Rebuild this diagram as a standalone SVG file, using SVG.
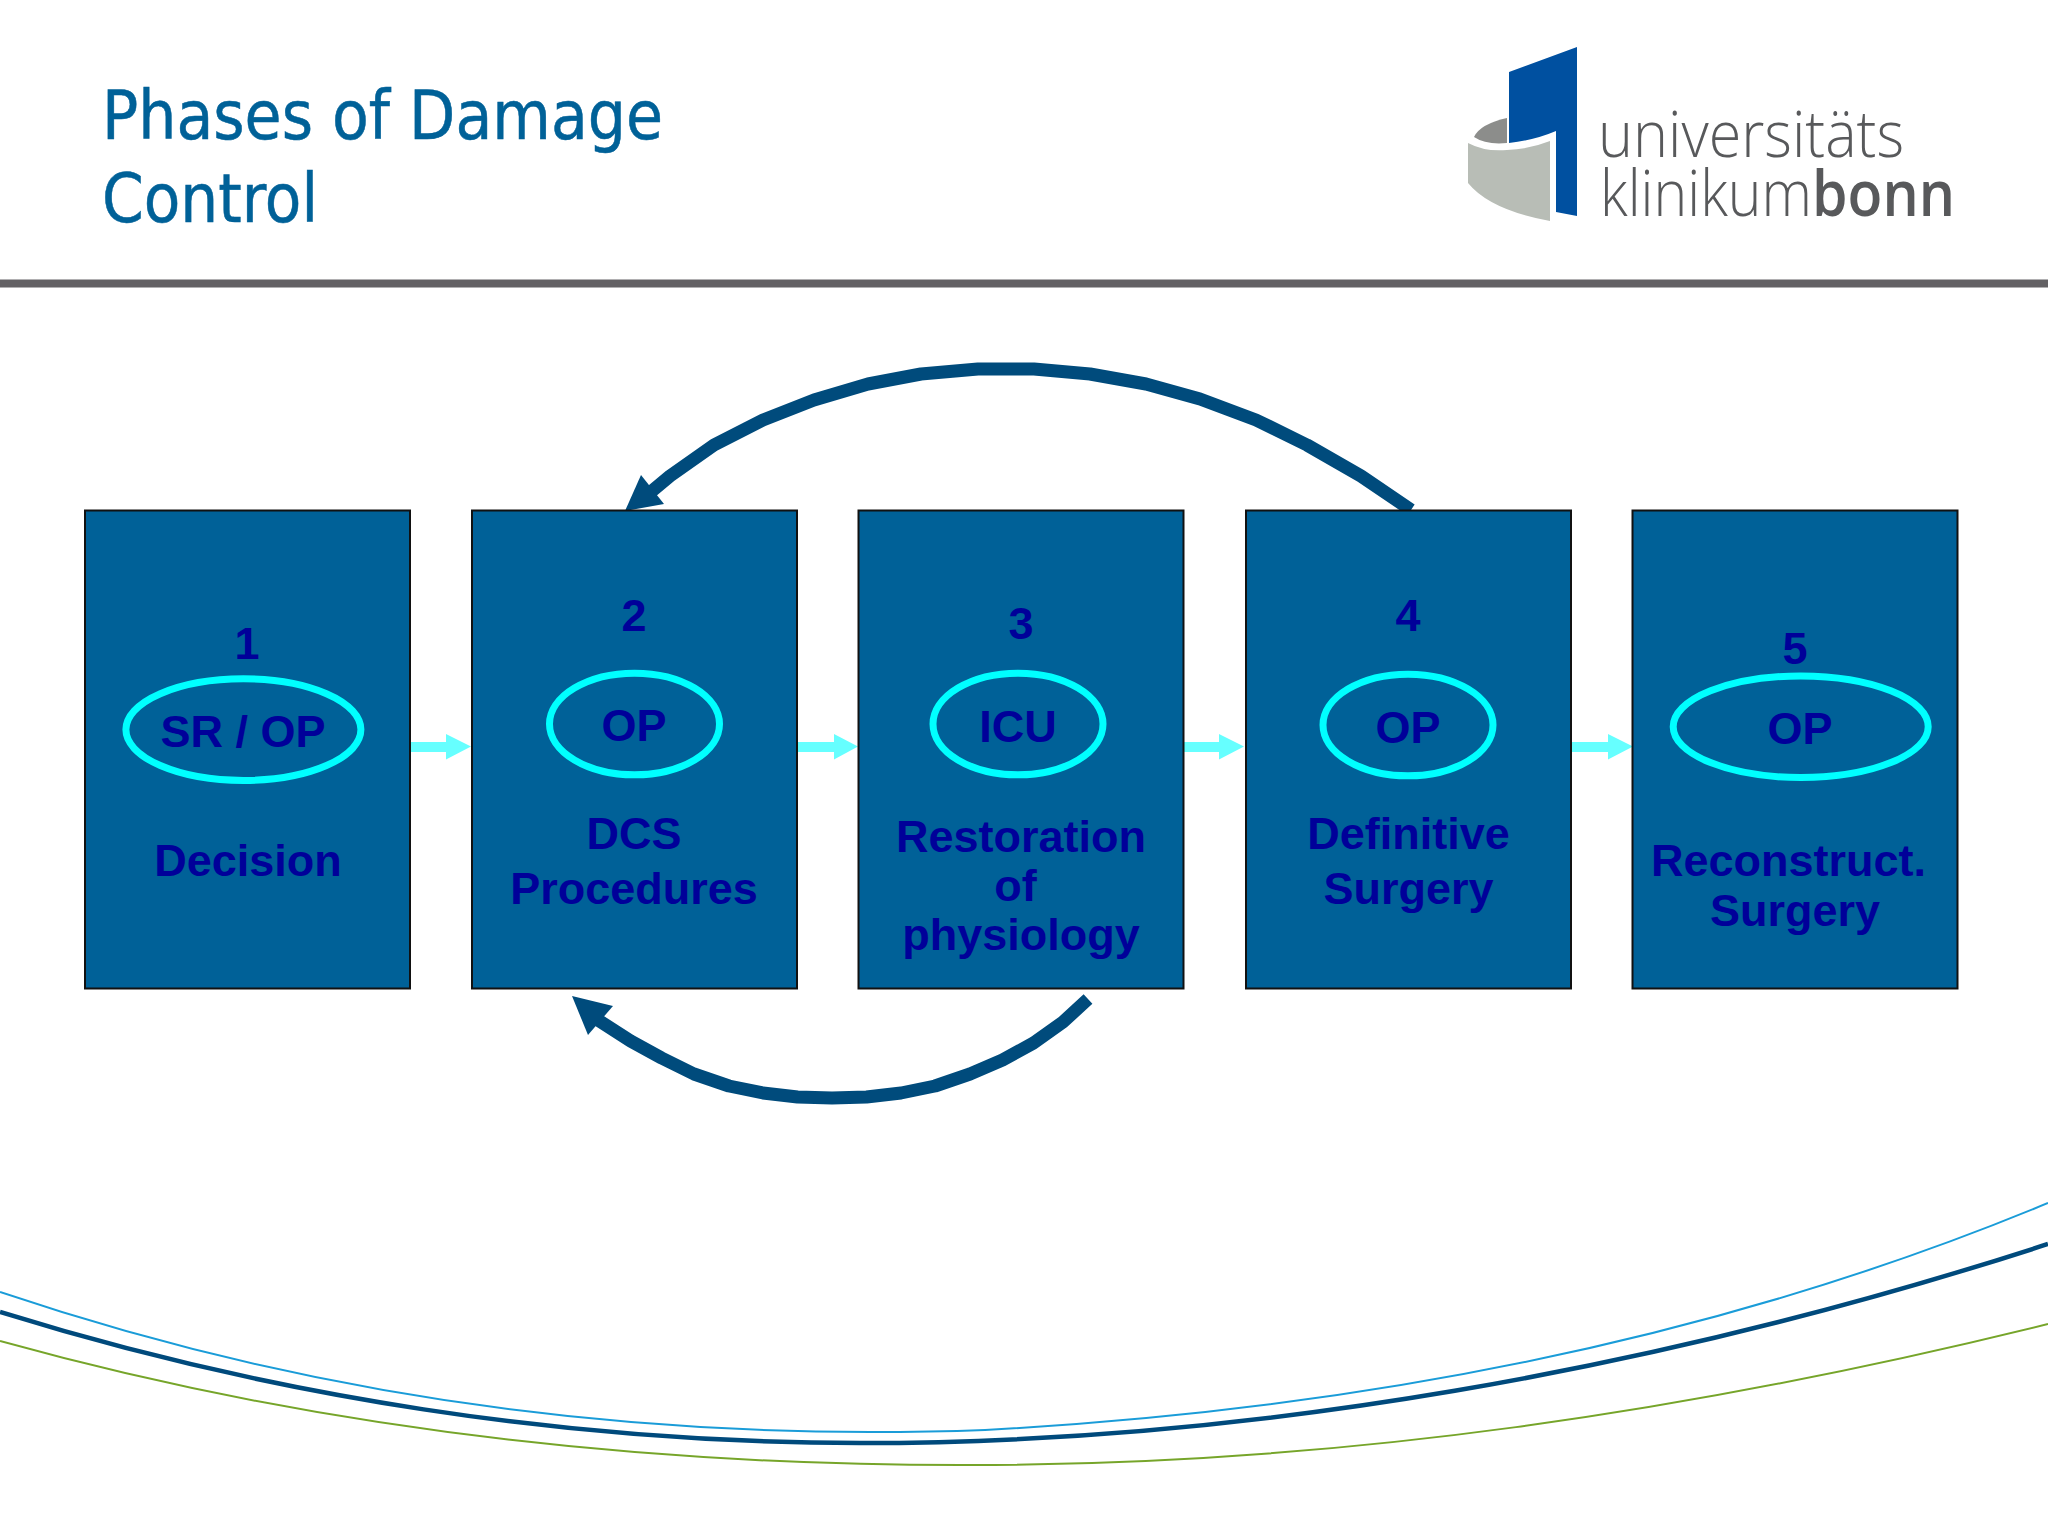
<svg xmlns="http://www.w3.org/2000/svg" width="2048" height="1536" viewBox="0 0 2048 1536">
<style>
.box{fill:#006198;stroke:#111;stroke-width:2}
.ring{fill:none;stroke:#00ffff;stroke-width:7}
.t{font-family:"Liberation Sans",Arial,sans-serif;font-weight:700;font-size:45px;fill:#000099;text-anchor:middle}
.title{font-family:"DejaVu Sans",sans-serif;font-stretch:condensed;font-size:67px;fill:#006198;stroke:#006198;stroke-width:.5}
.logo{font-family:"Open Sans","Noto Sans",sans-serif;font-weight:300;font-size:64px;fill:#58595b}
.flow{fill:#66ffff}
.loop{fill:none;stroke:#004b7c;stroke-width:13;stroke-linejoin:round}
.head{fill:#004b7c}
</style>
<rect width="2048" height="1536" fill="#ffffff"/>
<g id="title">
<text class="title" x="102" y="139" textLength="561" lengthAdjust="spacingAndGlyphs">Phases of Damage</text>
<text class="title" x="102" y="222" textLength="216" lengthAdjust="spacingAndGlyphs">Control</text>
</g>
<rect id="rule" x="0" y="279.500" width="2048" height="8" fill="#636164"/>
<g id="logo">
<path d="M1507 118 Q1480 124 1474 137 Q1486 145 1507 143Z" fill="#8c8d8b"/>
<path d="M1468 143 Q1485 152 1507 150 Q1530 149 1550 141 L1550 221 Q1490 210 1468 183Z" fill="#b8bdb6"/>
<path d="M1509 72 L1577 47 L1577 216 L1556 212 L1556 131 Q1535 140 1509 143Z" fill="#0050a0"/>
<text class="logo" x="1598" y="157" textLength="306" lengthAdjust="spacingAndGlyphs">universitäts</text>
<text class="logo" x="1600" y="216" textLength="355" lengthAdjust="spacingAndGlyphs">klinikum<tspan font-weight="600">bonn</tspan></text>
</g>
<g id="connectors">
<path class="flow" d="M410 742H446V734L471 746.500L446 759.500V752H410Z"/>
<path class="flow" d="M797 742H834V734L858 746.500L834 759.500V752H797Z"/>
<path class="flow" d="M1181 742H1219V734L1244 746.500L1219 759.500V752H1181Z"/>
<path class="flow" d="M1571 742H1608V734L1633 746.500L1608 759.500V752H1571Z"/>
<path class="loop" d="M1411 510L1361 476L1307 445L1256 420L1200 399L1146 384L1090 374L1034 369L978 369L921 374L868 384L814 400L763 420L714 445L670 476L646 496"/>
<polygon class="head" points="625,511 641,475 664,504"/>
<path class="loop" d="M1088 999L1063 1022L1033.500 1043L1002.500 1060L970 1074L935 1086L901 1093L866.500 1097L832 1098L797.600 1097L763 1093L729 1086L694 1074L661.600 1058L630.600 1041L598 1020"/>
<polygon class="head" points="572,996 613,1006 588,1035"/>
</g>
<g id="node1">
<rect class="box" x="85" y="510.500" width="325" height="478"/>
<ellipse class="ring" cx="243.400" cy="729.600" rx="117.500" ry="50.800"/>
<text class="t" x="247" y="659">1</text>
<text class="t" x="243" y="747">SR / OP</text>
<text class="t" x="248" y="876">Decision</text>
</g>
<g id="node2">
<rect class="box" x="472" y="510.500" width="325" height="478"/>
<ellipse class="ring" cx="634.500" cy="724" rx="85" ry="50.800"/>
<text class="t" x="634" y="631">2</text>
<text class="t" x="634" y="741">OP</text>
<text class="t" x="634" y="849">DCS</text>
<text class="t" x="634" y="904">Procedures</text>
</g>
<g id="node3">
<rect class="box" x="858.500" y="510.500" width="325" height="478"/>
<ellipse class="ring" cx="1018" cy="724" rx="85" ry="50.800"/>
<text class="t" x="1021" y="639">3</text>
<text class="t" x="1018" y="742">ICU</text>
<text class="t" x="1021" y="852">Restoration</text>
<text class="t" x="1015.500" y="901">of</text>
<text class="t" x="1021" y="950">physiology</text>
</g>
<g id="node4">
<rect class="box" x="1246" y="510.500" width="325" height="478"/>
<ellipse class="ring" cx="1408" cy="725" rx="85" ry="50.800"/>
<text class="t" x="1408" y="631">4</text>
<text class="t" x="1408" y="743">OP</text>
<text class="t" x="1408.500" y="849">Definitive</text>
<text class="t" x="1408.500" y="904">Surgery</text>
</g>
<g id="node5">
<rect class="box" x="1632.500" y="510.500" width="325" height="478"/>
<ellipse class="ring" cx="1800.700" cy="726.700" rx="127.500" ry="50.800"/>
<text class="t" x="1795" y="664">5</text>
<text class="t" x="1800" y="744">OP</text>
<text class="t" x="1788.500" y="876">Reconstruct.</text>
<text class="t" x="1795" y="926">Surgery</text>
</g>
<g id="swooshes" fill="none">
<path d="M0 1292C290 1390 580 1432 870 1432Q930 1432 985 1430C1300 1413 1680 1356 2048 1203" stroke="#1a9cd8" stroke-width="2"/>
<path d="M0 1312C273 1397 570 1443 860 1443C1250 1443 1660 1370 2048 1244" stroke="#004a7c" stroke-width="4.500"/>
<path d="M0 1341C320 1430 640 1465 960 1465C1340 1466 1700 1410 2048 1324" stroke="#76a52a" stroke-width="2"/>
</g>
</svg>
